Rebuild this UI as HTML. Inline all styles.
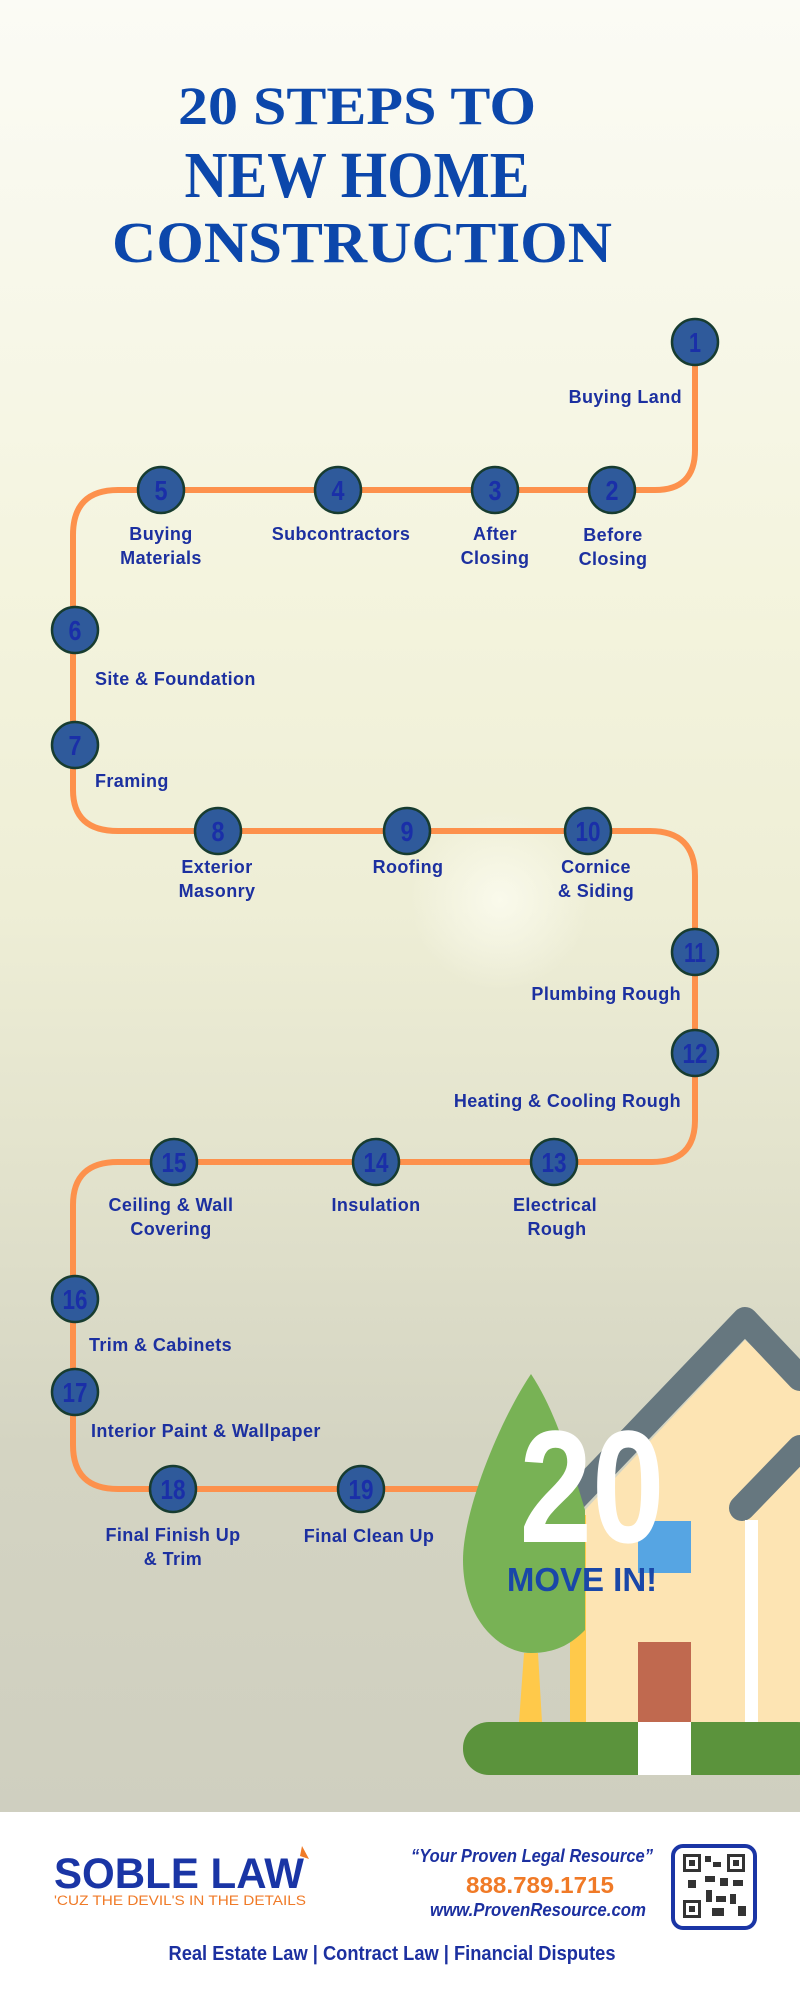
<!DOCTYPE html>
<html><head><meta charset="utf-8"><style>
html,body{margin:0;padding:0}
body{width:800px;height:2000px;overflow:hidden;position:relative;font-family:"Liberation Sans",sans-serif;}
#bg{position:absolute;left:0;top:0;width:800px;height:1812px;background:linear-gradient(180deg,#fbfbf5 0%,#f7f7e8 18%,#f3f3dc 35%,#eeeed6 50%,#e2e2cc 65%,#d4d4c2 80%,#cfcfc0 100%);}
#foot{position:absolute;left:0;top:1812px;width:800px;height:188px;background:#fff}
svg{position:absolute;left:0;top:0}
.lb{font-family:"Liberation Sans",sans-serif;font-weight:bold;font-size:18px;fill:#1c30a0;letter-spacing:0.4px}
.nm{font-family:"Liberation Sans",sans-serif;font-weight:bold;font-size:28px;fill:#1a2fa8;text-anchor:middle}
.tt{font-family:"Liberation Serif",serif;fill:#0c47ab;text-anchor:middle;font-weight:bold}
</style></head><body>
<div id="bg"></div><div id="foot"></div>
<svg width="800" height="2000" viewBox="0 0 800 2000">
<defs>
<radialGradient id="g1" cx="0.5" cy="0.5" r="0.5"><stop offset="0" stop-color="#fbfbee" stop-opacity="0.9"/><stop offset="1" stop-color="#fbfbee" stop-opacity="0"/></radialGradient>
</defs>
<circle cx="500" cy="900" r="90" fill="url(#g1)"/>
<!-- title -->
<text class="tt" x="357" y="124" font-size="54" textLength="358" lengthAdjust="spacingAndGlyphs">20 STEPS TO</text>
<text class="tt" x="357" y="197" font-size="66" textLength="345" lengthAdjust="spacingAndGlyphs">NEW HOME</text>
<text class="tt" x="362" y="262" font-size="58" textLength="500" lengthAdjust="spacingAndGlyphs">CONSTRUCTION</text>
<!-- path -->
<path d="M695 342 V450 Q695 490 655 490 H118 Q73 490 73 535 V790 Q73 831 118 831 H650 Q695 831 695 876 V1120 Q695 1162 652 1162 H118 Q73 1162 73 1205 V1445 Q73 1489 118 1489 H480" fill="none" stroke="#fd914c" stroke-width="6"/>
<!-- nodes -->
<g stroke="#173c30" stroke-width="2.5" fill="#2f5a9b">
<circle cx="695" cy="342" r="23"/><circle cx="612" cy="490" r="23"/><circle cx="495" cy="490" r="23"/><circle cx="338" cy="490" r="23"/><circle cx="161" cy="490" r="23"/>
<circle cx="75" cy="630" r="23"/><circle cx="75" cy="745" r="23"/><circle cx="218" cy="831" r="23"/><circle cx="407" cy="831" r="23"/><circle cx="588" cy="831" r="23"/>
<circle cx="695" cy="952" r="23"/><circle cx="695" cy="1053" r="23"/><circle cx="554" cy="1162" r="23"/><circle cx="376" cy="1162" r="23"/><circle cx="174" cy="1162" r="23"/>
<circle cx="75" cy="1299" r="23"/><circle cx="75" cy="1392" r="23"/><circle cx="173" cy="1489" r="23"/><circle cx="361" cy="1489" r="23"/>
</g>
<g class="nm" lengthAdjust="spacingAndGlyphs">
<text x="695" y="352" textLength="12" lengthAdjust="spacingAndGlyphs">1</text><text x="612" y="500" textLength="13" lengthAdjust="spacingAndGlyphs">2</text><text x="495" y="500" textLength="13" lengthAdjust="spacingAndGlyphs">3</text><text x="338" y="500" textLength="13" lengthAdjust="spacingAndGlyphs">4</text><text x="161" y="500" textLength="13" lengthAdjust="spacingAndGlyphs">5</text>
<text x="75" y="640" textLength="13" lengthAdjust="spacingAndGlyphs">6</text><text x="75" y="755" textLength="13" lengthAdjust="spacingAndGlyphs">7</text><text x="218" y="841" textLength="13" lengthAdjust="spacingAndGlyphs">8</text><text x="407" y="841" textLength="13" lengthAdjust="spacingAndGlyphs">9</text><text x="588" y="841" textLength="25" lengthAdjust="spacingAndGlyphs">10</text>
<text x="695" y="962" textLength="22" lengthAdjust="spacingAndGlyphs">11</text><text x="695" y="1063" textLength="25" lengthAdjust="spacingAndGlyphs">12</text><text x="554" y="1172" textLength="25" lengthAdjust="spacingAndGlyphs">13</text><text x="376" y="1172" textLength="25" lengthAdjust="spacingAndGlyphs">14</text><text x="174" y="1172" textLength="25" lengthAdjust="spacingAndGlyphs">15</text>
<text x="75" y="1309" textLength="25" lengthAdjust="spacingAndGlyphs">16</text><text x="75" y="1402" textLength="25" lengthAdjust="spacingAndGlyphs">17</text><text x="173" y="1499" textLength="25" lengthAdjust="spacingAndGlyphs">18</text><text x="361" y="1499" textLength="25" lengthAdjust="spacingAndGlyphs">19</text>
</g>
<!-- labels -->
<g class="lb">
<text x="682" y="403" text-anchor="end">Buying Land</text>
<text x="613" y="541" text-anchor="middle">Before</text><text x="613" y="565" text-anchor="middle">Closing</text>
<text x="495" y="540" text-anchor="middle">After</text><text x="495" y="564" text-anchor="middle">Closing</text>
<text x="341" y="540" text-anchor="middle">Subcontractors</text>
<text x="161" y="540" text-anchor="middle">Buying</text><text x="161" y="564" text-anchor="middle">Materials</text>
<text x="95" y="685">Site &amp; Foundation</text>
<text x="95" y="787">Framing</text>
<text x="217" y="873" text-anchor="middle">Exterior</text><text x="217" y="897" text-anchor="middle">Masonry</text>
<text x="408" y="873" text-anchor="middle">Roofing</text>
<text x="596" y="873" text-anchor="middle">Cornice</text><text x="596" y="897" text-anchor="middle">&amp; Siding</text>
<text x="681" y="1000" text-anchor="end">Plumbing Rough</text>
<text x="681" y="1107" text-anchor="end">Heating &amp; Cooling Rough</text>
<text x="555" y="1211" text-anchor="middle">Electrical</text><text x="557" y="1235" text-anchor="middle">Rough</text>
<text x="171" y="1211" text-anchor="middle">Ceiling &amp; Wall</text><text x="171" y="1235" text-anchor="middle">Covering</text>
<text x="376" y="1211" text-anchor="middle">Insulation</text>
<text x="89" y="1351">Trim &amp; Cabinets</text>
<text x="91" y="1437">Interior Paint &amp; Wallpaper</text>
<text x="173" y="1541" text-anchor="middle">Final Finish Up</text><text x="173" y="1565" text-anchor="middle">&amp; Trim</text>
<text x="369" y="1542" text-anchor="middle">Final Clean Up</text>
</g>
<!-- house -->
<path d="M745 1340 L585 1510 L585 1722 L800 1722 L800 1390 Z" fill="#fde4b3"/>
<rect x="570" y="1515" width="16" height="207" fill="#ffc94a"/>
<path d="M568 1505 L745 1320 L800 1378" fill="none" stroke="#66777f" stroke-width="26" stroke-linejoin="round" stroke-linecap="round"/>
<path d="M742 1508 L800 1448" fill="none" stroke="#66777f" stroke-width="26" stroke-linecap="round"/>
<rect x="745" y="1520" width="13" height="202" fill="#fff"/>
<rect x="638" y="1521" width="53" height="52" fill="#56a5e3"/>
<rect x="638" y="1642" width="53" height="80" fill="#c0694f"/>
<path d="M531 1374 C500 1420 463 1510 463 1560 C463 1620 500 1653 531 1653 C560 1653 575 1640 585 1630 L585 1510 C570 1460 555 1410 531 1374 Z" fill="#78b255"/>
<path d="M524 1653 L538 1653 L542 1722 L519 1722 Z" fill="#ffc94a"/>
<rect x="463" y="1722" width="360" height="53" rx="26" fill="#5b933c"/>
<rect x="638" y="1722" width="53" height="53" fill="#fff"/>
<text x="592" y="1542" text-anchor="middle" font-family="Liberation Sans,sans-serif" font-weight="bold" font-size="160" fill="#fff" textLength="145" lengthAdjust="spacingAndGlyphs">20</text>
<text x="582" y="1591" text-anchor="middle" font-family="Liberation Sans,sans-serif" font-weight="bold" font-size="33" fill="#1a47a8">MOVE IN!</text>
<!-- footer -->
<text x="54" y="1888" font-family="Liberation Sans,sans-serif" font-weight="bold" font-size="43" fill="#1a35a5" textLength="250" lengthAdjust="spacingAndGlyphs">SOBLE LAW</text>
<path d="M302 1846 L309 1859 L300 1856 Z" fill="#f07a27"/>
<text x="54" y="1905" font-family="Liberation Sans,sans-serif" font-size="13.5" fill="#f07a27" textLength="252" lengthAdjust="spacingAndGlyphs">'CUZ THE DEVIL'S IN THE DETAILS</text>
<text x="532" y="1862" text-anchor="middle" font-family="Liberation Sans,sans-serif" font-weight="bold" font-style="italic" font-size="18" fill="#1c30a0" textLength="242" lengthAdjust="spacingAndGlyphs">“Your Proven Legal Resource”</text>
<text x="540" y="1893" text-anchor="middle" font-family="Liberation Sans,sans-serif" font-weight="bold" font-size="23" fill="#f07a27" textLength="148" lengthAdjust="spacingAndGlyphs">888.789.1715</text>
<text x="538" y="1916" text-anchor="middle" font-family="Liberation Sans,sans-serif" font-weight="bold" font-style="italic" font-size="18" fill="#1c30a0" textLength="216" lengthAdjust="spacingAndGlyphs">www.ProvenResource.com</text>
<rect x="673" y="1846" width="82" height="82" rx="10" fill="#fff" stroke="#1a35a5" stroke-width="4"/>
<g fill="#333">
<rect x="683" y="1854" width="18" height="18"/><rect x="727" y="1854" width="18" height="18"/><rect x="683" y="1900" width="18" height="18"/>
<rect x="705" y="1856" width="6" height="6"/><rect x="713" y="1862" width="8" height="5"/><rect x="705" y="1876" width="10" height="6"/><rect x="720" y="1878" width="8" height="8"/><rect x="733" y="1880" width="10" height="6"/><rect x="688" y="1880" width="8" height="8"/><rect x="706" y="1890" width="6" height="12"/><rect x="716" y="1896" width="10" height="6"/><rect x="730" y="1894" width="6" height="10"/><rect x="738" y="1906" width="8" height="10"/><rect x="712" y="1908" width="12" height="8"/>
</g>
<g fill="#fff"><rect x="686" y="1857" width="12" height="12"/><rect x="730" y="1857" width="12" height="12"/><rect x="686" y="1903" width="12" height="12"/></g>
<g fill="#333"><rect x="689" y="1860" width="6" height="6"/><rect x="733" y="1860" width="6" height="6"/><rect x="689" y="1906" width="6" height="6"/></g>
<text x="392" y="1960" text-anchor="middle" font-family="Liberation Sans,sans-serif" font-weight="bold" font-size="20" fill="#1c30a0" textLength="447" lengthAdjust="spacingAndGlyphs">Real Estate Law | Contract Law | Financial Disputes</text>
</svg>
</body></html>
